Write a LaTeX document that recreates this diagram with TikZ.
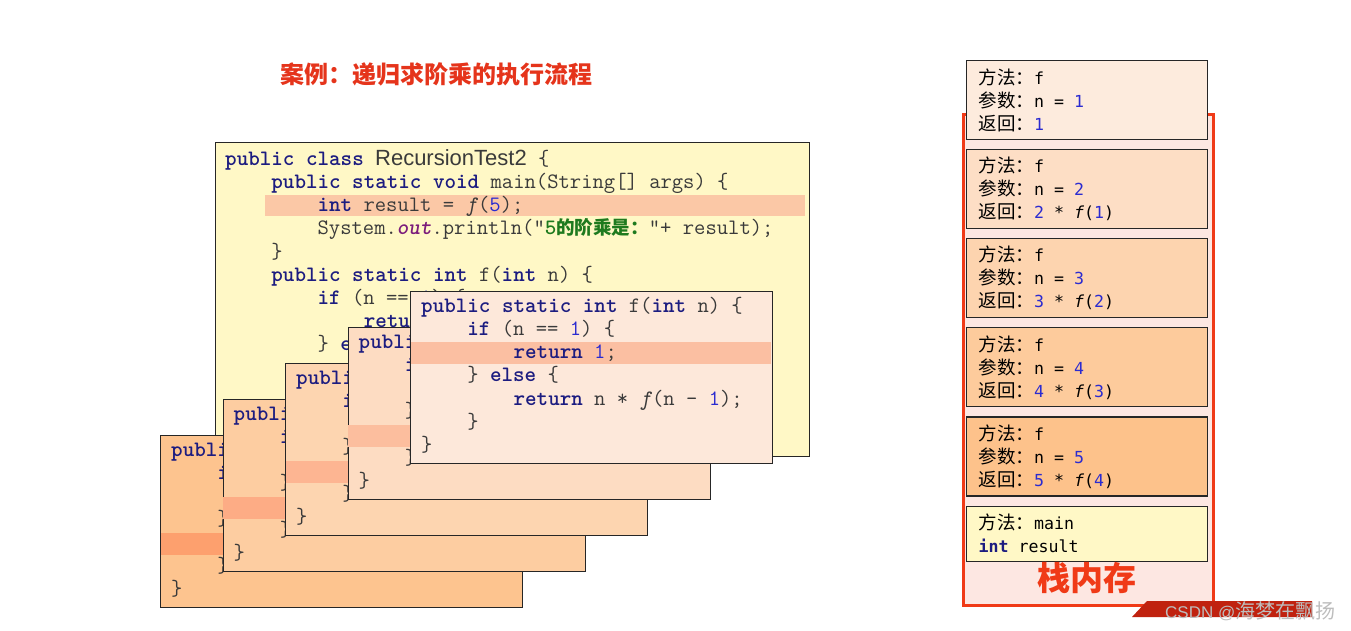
\documentclass[tikz,border=0pt]{standalone}
\usepackage{fontspec}
\newfontfamily\cjk{Noto Sans CJK SC}
\newfontfamily\sansfnt{Liberation Sans}
\newfontfamily\framefnt{DejaVu Sans Mono}
\usetikzlibrary{positioning}

\definecolor{codekw}{HTML}{1C1C80}
\definecolor{codetxt}{HTML}{3A3A3A}
\definecolor{codenum}{HTML}{2B2BD0}
\definecolor{codeout}{HTML}{7B1C7B}
\definecolor{codestr}{HTML}{1E7A1E}
\definecolor{mainfill}{HTML}{FFF8C6}
\definecolor{mainhl}{HTML}{FBC8A6}
\definecolor{titlered}{HTML}{E5341B}
\definecolor{stackred}{HTML}{F03A17}
\definecolor{stackfill}{HTML}{FDE7E2}
\definecolor{frameA}{HTML}{FDEBDD}
\definecolor{frameB}{HTML}{FDDEC5}
\definecolor{frameC}{HTML}{FDD4AF}
\definecolor{frameD}{HTML}{FDCB9C}
\definecolor{frameE}{HTML}{FDC28B}
\definecolor{callA}{HTML}{FDE8DA}
\definecolor{callB}{HTML}{FDDCC2}
\definecolor{callC}{HTML}{FDD5B0}
\definecolor{callD}{HTML}{FDCDA1}
\definecolor{callE}{HTML}{FDC48F}
\definecolor{hlA}{HTML}{FBBFA2}
\definecolor{hlB}{HTML}{FCBE9E}
\definecolor{hlC}{HTML}{FDB592}
\definecolor{hlD}{HTML}{FDAC85}
\definecolor{hlE}{HTML}{FDA06E}
\definecolor{wmred}{HTML}{C0220F}
\definecolor{wmgray}{HTML}{BDBDBD}

\newcommand{\codefont}{\ttfamily\fontsize{22}{23.2}\selectfont\color{codetxt}\lineskiplimit=-50pt\relax}
\newcommand{\framefont}{\framefnt\fontsize{16.6}{23}\selectfont\lineskiplimit=-50pt\relax}
\newcommand{\kw}[1]{\textbf{\textcolor{codekw}{#1}}}
\newcommand{\nval}[1]{\textcolor{codenum}{#1}}
\newcommand{\fn}{\textit{f}}
\newcommand{\ind}{\hspace*{2.1em}}
\newcommand{\msp}{\hspace*{0.602em}}
\newcommand{\zh}[1]{{\cjk\fontsize{18.5}{23}\selectfont #1}}

% body of the recursive method, shared by all call boxes
\newcommand{\fcode}{\strut\kw{public static int} f(\kw{int} n) \{\\
\ind\kw{if} (n == \nval{1}) \{\\
\ind\ind\kw{return} \nval{1};\\
\ind\} \kw{else} \{\\
\ind\ind\kw{return} n * \fn(n - \nval{1});\\
\ind\}\\
\}}

\begin{document}
\begin{tikzpicture}[x=1pt, y=-1pt,
    codebox/.style={draw=black!85, line width=1.1pt, anchor=north west, inner sep=0pt},
    callbox/.style={codebox, minimum width=362pt, minimum height=172pt},
    codetext/.style={anchor=north west, inner sep=0pt, align=left, font=\codefont},
    stackframe/.style={draw=black!85, line width=1.1pt, minimum width=241pt, minimum height=79pt,
        text width=217pt, inner xsep=12pt, inner ysep=0pt, align=left, font=\framefont}]
    \useasboundingbox (0,0) rectangle (1351,630);

    \node[font={\cjk\bfseries\fontsize{24}{28}\selectfont}, text=titlered] (title) at (436,74) {案例：递归求阶乘的执行流程};

    % class with main and f
    \node[codebox, fill=mainfill, minimum width=594pt, minimum height=314pt] (mainbox) at (215,142) {};
    \fill[mainhl] (265,194.5) rectangle (805,216);
    \node[codetext] (maincode) at (225,148.8) {\strut\kw{public class} {\sansfnt RecursionTest2} \{\\
        \ind\kw{public static void} main(String[] args) \{\\
        \ind\ind\kw{int} result = \fn(\nval{5});\\
        \ind\ind System.\textcolor{codeout}{\textbf{\textit{out}}}.println("\textcolor{codestr}{\textbf{5\zh{的阶乘是：}}}"+ result);\\
        \ind\}\\
        \ind\kw{public static int} f(\kw{int} n) \{\\
        \ind\ind\kw{if} (n == \nval{1}) \{\\
        \ind\ind\ind\kw{return} \nval{1};\\
        \ind\ind\} \kw{else} \{\\
        \ind\ind\ind\kw{return} n * \fn(n - \nval{1});\\
        \ind\ind\}\\
        \ind\}\\
        \}};

    % stacked calls f(5) ... f(1)
    \foreach \i/\boxfill/\hlfill in {5/callE/hlE, 4/callD/hlD, 3/callC/hlC, 2/callB/hlB, 1/callA/hlA} {
        \pgfmathsetmacro\bx{410-62.5*(\i-1)}
        \pgfmathsetmacro\by{291+36*(\i-1)}
        \pgfmathsetmacro\hly{\by+5+23.2*((\i==1 ? 3 : 5)-1)}
        \node[callbox, fill=\boxfill] (call\i) at (\bx,\by) {};
        \fill[\hlfill] (\bx+0.6,\hly) rectangle ++(360.8,22);
        \node[codetext] (callcode\i) at (\bx+11,\by+4.8) {\fcode};
    }

    % stack memory
    \node[draw=stackred, line width=3pt, fill=stackfill, minimum width=250pt, minimum height=491pt,
        anchor=north west] (stack) at (962,113) {};
    \node[stackframe, fill=frameA, anchor=north west] (frame1) at (966,60)
        {\zh{方法：}f\\\zh{参数：}n\msp=\msp\nval{1}\\\zh{返回：}\nval{1}};
    \foreach \i/\framefill in {2/frameB, 3/frameC, 4/frameD, 5/frameE} {
        \pgfmathtruncatemacro\prev{\i-1}
        \node[stackframe, fill=\framefill, below=9pt of frame\prev] (frame\i)
            {\zh{方法：}f\\\zh{参数：}n\msp=\msp\nval{\i}\\\zh{返回：}\nval{\i}\msp*\msp\textit{f}(\nval{\prev})};
    }
    \node[stackframe, fill=mainfill, minimum height=55pt, below=9pt of frame5] (framemain)
        {\zh{方法：}main\\\textbf{\textcolor{codekw}{int}}\msp result};
    \node[font={\cjk\bfseries\fontsize{33}{36}\selectfont}, text=stackred] (stacklabel) at (1087,578) {栈内存};

    % watermark
    \fill[wmred] (1132,617) -- (1147,601) -- (1312,601) -- (1312,617) -- cycle;
    \node[text=wmgray, font={\sansfnt\fontsize{17}{20}\selectfont}, anchor=west, inner sep=0pt] (watermark)
        at (1165,611) {CSDN @{\cjk\fontsize{20}{20}\selectfont 海梦在飘扬}};
\end{tikzpicture}
\end{document}
